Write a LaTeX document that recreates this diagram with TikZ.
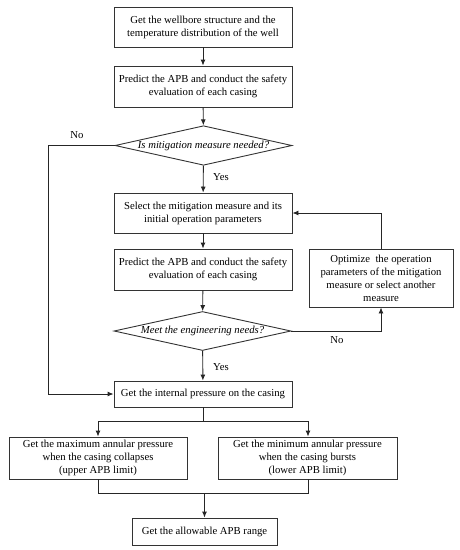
\documentclass[tikz,border=0pt]{standalone}
\usepackage{fontspec}
\setmainfont{Liberation Serif}
\usetikzlibrary{arrows.meta,shapes.geometric}
\begin{document}
\begin{tikzpicture}[x=1pt,y=-1pt,
  every node/.style={font=\fontsize{10.7}{13}\selectfont, inner sep=0pt, align=center},
  box/.style={draw, line width=0.9pt, draw=black!80, fill=white},
  dia/.style={draw, line width=0.9pt, draw=black!80, diamond, aspect=4.4, font=\fontsize{10.7}{13}\selectfont\itshape},
  conn/.style={line width=0.9pt, draw=black!85},
  arr/.style={conn, -{Latex[length=6pt,width=5pt]}},
  lbl/.style={font=\fontsize{10.7}{13}\selectfont}]
\useasboundingbox (0,0) rectangle (460,550);
\node[box, minimum width=178pt, minimum height=40pt] (b1) at (203,27) {Get the wellbore structure and the\\temperature distribution of the well};
\node[box, minimum width=178pt, minimum height=41pt] (b2) at (203,86.5) {Predict the APB and conduct the safety\\evaluation of each casing};
\node[dia, minimum width=177pt, minimum height=39pt] (d1) at (203.5,145.5) {Is mitigation measure needed?};
\node[box, minimum width=178pt, minimum height=40pt] (b3) at (203,213) {Select the mitigation measure and its\\initial operation parameters};
\node[box, minimum width=178pt, minimum height=41pt] (b4) at (203,269.5) {Predict the APB and conduct the safety\\evaluation of each casing};
\node[dia, minimum width=177pt, minimum height=39pt] (d2) at (202.5,331) {Meet the engineering needs?};
\node[box, minimum width=144pt, minimum height=58pt] (b5) at (381,278) {Optimize\ \ the operation\\parameters of the mitigation\\measure or select another\\measure};
\node[box, minimum width=178pt, minimum height=26pt] (b6) at (203,394) {Get the internal pressure on the casing};
\node[box, minimum width=178pt, minimum height=42pt] (b7) at (98,458) {Get the maximum annular pressure\\when the casing collapses\\(upper APB limit)};
\node[box, minimum width=179pt, minimum height=42pt] (b8) at (307.5,458) {Get the minimum annular pressure\\when the casing bursts\\(lower APB limit)};
\node[box, minimum width=145pt, minimum height=27pt] (b9) at (204.5,531.5) {Get the allowable APB range};
\coordinate (c1) at (48,145.5);
\coordinate (c2) at (48,394);
\coordinate (c3) at (381,331);
\coordinate (c4) at (381,213);
\coordinate (s1) at (203,421);
\coordinate (s2) at (98,421);
\coordinate (s3) at (308,421);
\coordinate (j1) at (98,493);
\coordinate (j2) at (308,493);
\coordinate (j3) at (204.5,493);
\draw[arr] (b1) -- (b2);
\draw[arr] (b2) -- (d1);
\draw[arr] (d1) -- (b3);
\draw[arr] (b3) -- (b4);
\draw[arr] (b4) -- (d2);
\draw[arr] (d2) -- (b6);
\draw[arr] (d1.west) -- (c1) -- (c2) -- (b6.west);
\draw[arr] (d2.east) -- (c3) -- (b5.south);
\draw[arr] (b5.north) -- (c4) -- (b3.east);
\draw[conn] (b6.south) -- (s1);
\draw[conn] (s2) -- (s3);
\draw[arr] (s2) -- (b7.north);
\draw[arr] (s3) -- (s3 |- b8.north);
\draw[conn] (b7.south) -- (j1) -- (j2) -- (s3 |- b8.south);
\draw[arr] (j3) -- (b9.north);
\node[lbl] (no1) at (77,135) {No};
\node[lbl] (yes1) at (221,177) {Yes};
\node[lbl] (no2) at (337,340) {No};
\node[lbl] (yes2) at (221,367) {Yes};
\end{tikzpicture}
\end{document}
